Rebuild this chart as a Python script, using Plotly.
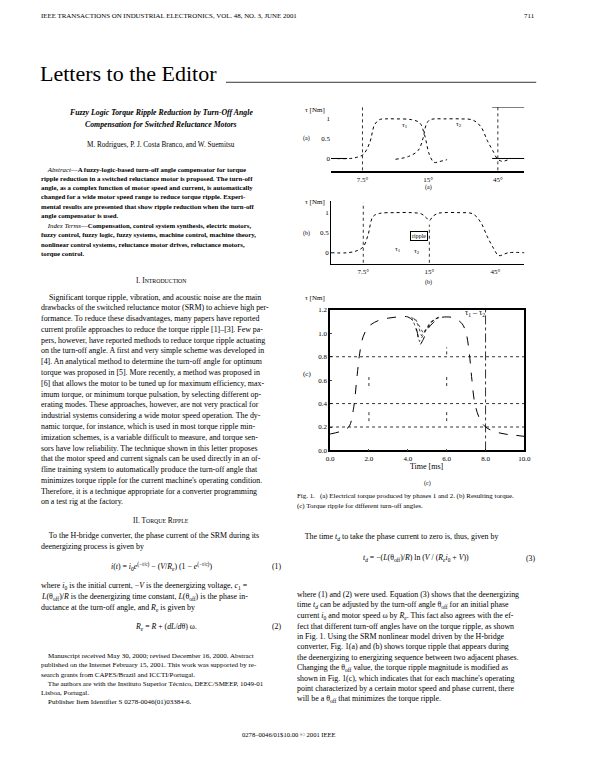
import plotly.graph_objects as go

W, H = 600, 776
OFF = 8  # browser body margin compensation
def px(x): return (x - OFF) / W
def py(y): return 1 - (y - OFF) / H

# ---- data ----
t_c = [0.0, 0.5, 0.8, 1.0, 1.2, 1.4, 1.5, 1.7, 2.0, 2.5, 3.0, 3.5, 4.0, 4.3, 4.5, 4.6, 4.8, 5.0, 5.3, 5.6, 6.0, 6.4, 6.8, 7.0, 7.15, 7.3, 7.45, 7.7, 8.0, 8.5, 9.0, 9.5, 10.0]
tau_c = [0.14, 0.16, 0.18, 0.21, 0.35, 0.65, 0.80, 0.97, 1.06, 1.11, 1.13, 1.14, 1.14, 1.10, 1.00, 0.90, 0.95, 1.03, 1.09, 1.13, 1.14, 1.13, 1.08, 1.00, 0.85, 0.60, 0.40, 0.27, 0.20, 0.16, 0.14, 0.13, 0.12]
ripple_t = [[4.2, 4.4, 4.6, 4.9, 5.2, 5.6], [4.3, 4.5, 4.7, 5.0, 5.3, 5.6], [4.4, 4.6, 4.8, 5.1, 5.4, 5.7]]
ripple_v = [[1.14, 1.05, 0.93, 1.02, 1.10, 1.14], [1.13, 1.08, 0.98, 1.05, 1.11, 1.14], [1.12, 1.06, 1.00, 1.08, 1.12, 1.14]]

ang_a = [0, 12, 16, 20, 24, 27, 30, 34, 40, 50, 55, 58, 61, 64, 67, 72]
tau1_a = [0, 0, 0.03, 0.1, 0.4, 0.85, 0.98, 1.0, 1.0, 0.98, 0.9, 0.6, 0.1, -0.1, -0.08, -0.03]
ang_a2 = [40, 48, 54, 57, 59, 61, 64, 70, 80, 88, 93, 97, 101, 103, 106, 110]
tau2_a = [-0.02, 0.05, 0.2, 0.5, 0.85, 0.97, 1.0, 1.0, 1.0, 0.97, 0.8, 0.45, 0.15, 0.0, -0.07, -0.03]

ang_b = [0, 10, 16, 20, 23, 26, 30, 40, 50, 56, 59, 61, 63, 66, 70, 80, 88, 93, 97, 101, 104, 110, 120]
tau_b = [0, 0, 0.05, 0.15, 0.45, 0.9, 0.98, 1.0, 1.0, 0.97, 0.88, 0.8, 0.9, 0.98, 1.0, 1.0, 0.97, 0.75, 0.4, 0.1, -0.07, 0, 0]

fig = go.Figure()
fig.add_trace(go.Scatter(x=t_c, y=tau_c, mode="lines", line=dict(color="black", width=1, dash="dash"), line_shape="spline", xaxis="x", yaxis="y"))
for rt, rv in zip(ripple_t, ripple_v):
    fig.add_trace(go.Scatter(x=rt, y=rv, mode="lines", line=dict(color="black", width=0.7, dash="dot"), xaxis="x", yaxis="y"))
fig.add_trace(go.Scatter(x=ang_a, y=tau1_a, mode="lines", line=dict(color="black", width=1, dash="dot"), line_shape="spline", xaxis="x2", yaxis="y2"))
fig.add_trace(go.Scatter(x=ang_a2, y=tau2_a, mode="lines", line=dict(color="black", width=1, dash="dot"), line_shape="spline", xaxis="x2", yaxis="y2"))
fig.add_trace(go.Scatter(x=ang_b, y=tau_b, mode="lines", line=dict(color="black", width=1, dash="dot"), line_shape="spline", xaxis="x3", yaxis="y3"))

ax_font = dict(family="Liberation Serif", size=7, color="black")
common = dict(showline=True, linecolor="black", mirror=True, ticks="inside", ticklen=2, tickfont=ax_font, zeroline=False, showgrid=False)
fig.update_layout(
    width=W, height=H, margin=dict(l=0, r=0, t=0, b=0), showlegend=False,
    plot_bgcolor="white", paper_bgcolor="white",
    xaxis=dict(domain=[px(332), px(530)], range=[0, 10], tickvals=[0, 2, 4, 6, 8, 10],
               ticktext=["0.0", "2.0", "4.0", "6.0", "8.0", "10.0"], anchor="y", linewidth=1.5, **common),
    yaxis=dict(domain=[py(451), py(309)], range=[0, 1.2], tickvals=[0, 0.2, 0.4, 0.6, 0.8, 1.0, 1.2],
               ticktext=["0.0", "0.2", "0.4", "0.6", "0.8", "1.0", "1.2"], anchor="x", linewidth=1.5, **common),
    xaxis2=dict(domain=[px(333), px(530)], range=[0, 120], tickvals=[19.5, 60.3, 103.5], ticktext=["7.5°", "15°", "45°"],
                showline=True, linecolor="black", linewidth=2, showgrid=False, zeroline=False, tickfont=ax_font, anchor="y2"),
    yaxis2=dict(domain=[py(169), py(104)], range=[-0.325, 1.3], tickvals=[0, 0.5, 1], ticktext=["0", "0.5", "1"],
                showline=False, showgrid=False, zeroline=False, tickfont=ax_font, anchor="x2"),
    xaxis3=dict(domain=[px(333), px(530)], range=[0, 120], tickvals=[20, 61, 102], ticktext=["7.5°", "15°", "45°"],
                showline=True, linecolor="black", showgrid=False, zeroline=False, tickfont=ax_font, anchor="y3"),
    yaxis3=dict(domain=[py(263), py(199)], range=[-0.29, 1.29], tickvals=[0, 0.5, 1], ticktext=["0", "0.5", "1"],
                showline=True, linecolor="black", showgrid=False, zeroline=False, tickfont=ax_font, anchor="x3"),
)
dotl = dict(color="black", width=0.8, dash="dot")
for yv in [0.2, 0.4, 0.8]:
    fig.add_hline(y=yv, line=dotl, xref="x", yref="y")
for xv, y0, y1 in [(2, 0.25, 0.35), (2, 0.55, 0.65), (6, 0.25, 0.35), (6, 0.55, 0.65), (6, 0.82, 0.88)]:
    fig.add_shape(type="line", x0=xv, x1=xv, y0=y0, y1=y1, xref="x", yref="y", line=dotl)
fig.add_vline(x=8, line=dict(color="black", width=0.8, dash="dashdot"), xref="x", yref="y")
fig.add_shape(type="line", x0=19.5, x1=19.5, y0=-0.3, y1=1.3, xref="x2", yref="y2", line=dotl)
fig.add_shape(type="line", x0=103.5, x1=103.5, y0=-0.3, y1=1.3, xref="x2", yref="y2", line=dotl)
fig.add_shape(type="line", x0=100, x1=120, y0=0, y1=0, xref="x2", yref="y2", line=dict(color="black", width=1))
fig.add_shape(type="line", x0=100, x1=120, y0=1.3, y1=1.3, xref="x2", yref="y2", line=dict(color="black", width=1))
fig.add_shape(type="line", x0=0, x1=10, y0=0, y1=0, xref="x2", yref="y2", line=dict(color="black", width=1))
fig.add_shape(type="line", x0=61, x1=61, y0=-0.25, y1=0.7, xref="x3", yref="y3", line=dotl)
fig.add_shape(type="line", x0=20, x1=20, y0=-0.25, y1=1.25, xref="x3", yref="y3", line=dotl)

S = "Liberation Serif"
def txt(x, y, s, size=8, anchor="left", yanchor="middle"):
    fig.add_annotation(x=px(x), y=py(y), xref="paper", yref="paper", text=s, showarrow=False,
                       xanchor=anchor, yanchor=yanchor, borderpad=0,
                       font=dict(family=S, size=size, color="black"))

def para(x, y0, dy, lines, size=8):
    for i, ln in enumerate(lines):
        txt(x, y0 + i * dy, ln, size)

# figure texts
txt(305, 297, "τ [Nm]", 7)
txt(305, 107, "τ [Nm]", 7)
txt(305, 200, "τ [Nm]", 7)
txt(303, 374, "(c)", 7)
txt(303, 136, "(a)", 6)
txt(303, 232, "(b)", 6)
txt(468, 312, "τ<sub>1</sub> – τ<sub>2</sub>", 8)
txt(431, 467, "Time [ms]", 8, "center")
txt(431, 484, "(c)", 6, "center")
txt(432, 185, "(a)", 6, "center")
txt(432, 281, "(b)", 6, "center")
txt(404, 122, "τ<sub>1</sub>", 7); txt(459, 121, "τ<sub>2</sub>", 7)
txt(397, 247, "τ<sub>1</sub>", 7); txt(416, 249, "τ<sub>2</sub>", 7)
fig.add_annotation(x=px(432), y=py(229), xref="paper", yref="paper", text="ripple", showarrow=False,
                   bordercolor="black", borderwidth=1, borderpad=1, font=dict(family=S, size=6, color="black"))

# page texts
txt(37, 12, "IEEE TRANSACTIONS ON INDUSTRIAL ELECTRONICS, VOL. 48, NO. 3, JUNE 2001", 6.9)
txt(542, 12, "711", 6.9, "right")
txt(36, 70, "Letters to the Editor", 22)
fig.add_shape(type="line", x0=px(226), x1=px(542), y0=py(79), y1=py(79), xref="paper", yref="paper", line=dict(color="black", width=0.8))
txt(160, 110, "<b><i>Fuzzy Logic Torque Ripple Reduction by Turn-Off Angle</i></b>", 7.8, "center")
txt(160, 122, "<b><i>Compensation for Switched Reluctance Motors</i></b>", 7.8, "center")
txt(160, 142, "M. Rodrigues, P. J. Costa Branco, and W. Suemitsu", 7.2, "center")

para(37, 167, 9.3, [
    "    <i>Abstract</i>—<b>A fuzzy-logic-based turn-off angle compensator for torque</b>",
    "<b>ripple reduction in a switched reluctance motor is proposed. The turn-off</b>",
    "<b>angle, as a complex function of motor speed and current, is automatically</b>",
    "<b>changed for a wide motor speed range to reduce torque ripple. Experi-</b>",
    "<b>mental results are presented that show ripple reduction when the turn-off</b>",
    "<b>angle compensator is used.</b>"], 6.8)
para(37, 224, 9.3, [
    "    <i>Index Terms</i>—<b>Compensation, control system synthesis, electric motors,</b>",
    "<b>fuzzy control, fuzzy logic, fuzzy systems, machine control, machine theory,</b>",
    "<b>nonlinear control systems, reluctance motor drives, reluctance motors,</b>",
    "<b>torque control.</b>"], 6.8)
txt(160, 279, "I. I<span style='font-size:5.8px'>NTRODUCTION</span>", 7.4, "center")
para(37, 296, 10.9, [
    "    Significant torque ripple, vibration, and acoustic noise are the main",
    "drawbacks of the switched reluctance motor (SRM) to achieve high per-",
    "formance. To reduce these disadvantages, many papers have reported",
    "current profile approaches to reduce the torque ripple [1]–[3]. Few pa-",
    "pers, however, have reported methods to reduce torque ripple actuating",
    "on the turn-off angle. A first and very simple scheme was developed in",
    "[4]. An analytical method to determine the turn-off angle for optimum",
    "torque was proposed in [5]. More recently, a method was proposed in",
    "[6] that allows the motor to be tuned up for maximum efficiency, max-",
    "imum torque, or minimum torque pulsation, by selecting different op-",
    "erating modes. These approaches, however, are not very practical for",
    "industrial systems considering a wide motor speed operation. The dy-",
    "namic torque, for instance, which is used in most torque ripple min-",
    "imization schemes, is a variable difficult to measure, and torque sen-",
    "sors have low reliability. The technique shown in this letter proposes",
    "that the motor speed and current signals can be used directly in an of-",
    "fline training system to automatically produce the turn-off angle that",
    "minimizes torque ripple for the current machine's operating condition.",
    "Therefore, it is a technique appropriate for a converter programming",
    "on a test rig at the factory."], 7.9)
txt(160, 522, "II. T<span style='font-size:5.8px'>ORQUE</span> R<span style='font-size:5.8px'>IPPLE</span>", 7.4, "center")
para(37, 537, 10.9, [
    "    To the H-bridge converter, the phase current of the SRM during its",
    "deenergizing process is given by"], 7.9)
txt(160, 568, "<i>i</i>(<i>t</i>) = <i>i</i><sub>0</sub><i>e</i><sup>(−t/c)</sup> − (<i>V</i>/<i>R<sub>e</sub></i>) (1 − <i>e</i><sup>(−t/c)</sup>)", 7.8, "center")
txt(283, 568, "(1)", 7.7, "right")
para(37, 588, 10.9, [
    "where <i>i</i><sub>0</sub> is the initial current, −<i>V</i> is the deenergizing voltage, <i>c</i><sub>1</sub> =",
    "<i>L</i>(θ<sub>off</sub>)/<i>R</i> is the deenergizing time constant, <i>L</i>(θ<sub>off</sub>) is the phase in-",
    "ductance at the turn-off angle, and <i>R<sub>e</sub></i> is given by"], 7.9)
txt(165, 629, "<i>R<sub>e</sub></i> = <i>R</i> + (<i>dL</i>/<i>d</i>θ) ω.", 7.8, "center")
txt(283, 629, "(2)", 7.7, "right")
para(37, 659, 9.3, [
    "    Manuscript received May 30, 2000; revised December 16, 2000. Abstract",
    "published on the Internet February 15, 2001. This work was supported by re-",
    "search grants from CAPES/Brazil and ICCTI/Portugal.",
    "    The authors are with the Instituto Superior Técnico, DEEC/SMEEP, 1049-01",
    "Lisboa, Portugal.",
    "    Publisher Item Identifier S 0278-0046(01)03384-6."], 7.0)
para(297, 497, 10, [
    "Fig. 1.   (a) Electrical torque produced by phases 1 and 2. (b) Resulting torque.",
    "(c) Torque ripple for different turn-off angles."], 6.9)
txt(297, 538, "    The time <i>t<sub>d</sub></i> to take the phase current to zero is, thus, given by", 7.9)
txt(420, 560, "<i>t<sub>d</sub></i> = −(<i>L</i>(θ<sub>off</sub>)/<i>R</i>) ln (<i>V</i> / (<i>R<sub>e</sub>i</i><sub>0</sub> + <i>V</i>))", 7.8, "center")
txt(542, 560, "(3)", 7.7, "right")
para(297, 597, 10.5, [
    "where (1) and (2) were used. Equation (3) shows that the deenergizing",
    "time <i>t<sub>d</sub></i> can be adjusted by the turn-off angle θ<sub>off</sub> for an initial phase",
    "current <i>i</i><sub>0</sub> and motor speed ω by <i>R<sub>e</sub></i>. This fact also agrees with the ef-",
    "fect that different turn-off angles have on the torque ripple, as shown",
    "in Fig. 1. Using the SRM nonlinear model driven by the H-bridge",
    "converter, Fig. 1(a) and (b) shows torque ripple that appears during",
    "the deenergizing to energizing sequence between two adjacent phases.",
    "Changing the θ<sub>off</sub> value, the torque ripple magnitude is modified as",
    "shown in Fig. 1(c), which indicates that for each machine's operating",
    "point characterized by a certain motor speed and phase current, there",
    "will be a θ<sub>off</sub> that minimizes the torque ripple."], 7.9)
txt(290, 738, "0278–0046/01$10.00 © 2001 IEEE", 6.6, "center")

fig.write_html("out.html")
